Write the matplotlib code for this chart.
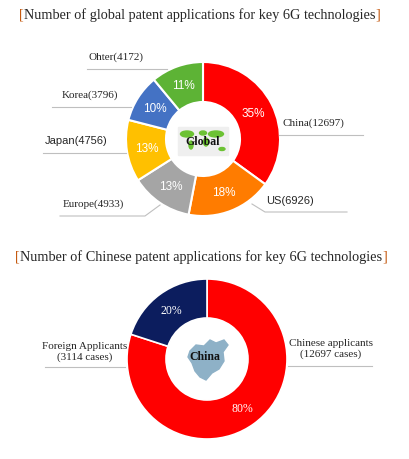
import matplotlib.pyplot as plt
from matplotlib.patches import Rectangle, Ellipse, Polygon

# données
regions = ["China", "US", "Europe", "Japan", "Korea", "Ohter"]
counts = [12697, 6926, 4933, 4756, 3796, 4172]
shares = [35, 18, 13, 13, 10, 11]
colors = ["#FF0000", "#FF7C00", "#A5A5A5", "#FFC000", "#4472C4", "#5DB335"]

cn_groups = ["Chinese applicants", "Foreign Applicants"]
cn_counts = [12697, 3114]
cn_shares = [80, 20]
cn_colors = ["#FF0000", "#0C1D5E"]

W, H = 410, 460
serif = "Liberation Serif"
sans = "Liberation Sans"


def Y(py):
    # coordonnées pixel (haut -> bas) vers coordonnées du graphique
    return H - py


fig = plt.figure(figsize=(W / 100, H / 100), dpi=100)
ax = fig.add_axes([0, 0, 1, 1])

# --- donut global ---
wedges, _, pcts = ax.pie(shares, colors=colors, startangle=90, counterclock=False,
                         center=(203, Y(140)), radius=77, autopct="%.0f%%",
                         pctdistance=0.74,
                         wedgeprops=dict(width=40, edgecolor="white", linewidth=1.5),
                         textprops=dict(color="white", fontsize=8.5, family=sans))

# --- donut Chine ---
wedges2, _, pcts2 = ax.pie(cn_shares, colors=cn_colors, startangle=90, counterclock=False,
                           center=(207, Y(360)), radius=80, autopct="%.0f%%",
                           pctdistance=0.76,
                           wedgeprops=dict(width=39, edgecolor="white", linewidth=1.2),
                           textprops=dict(color="white", fontsize=8.5, family=serif))

ax.set_xlim(0, W)
ax.set_ylim(0, H)
ax.set_aspect("equal")
ax.axis("off")

# étiquettes et lignes de rappel (global)
line_kw = dict(color="#BFBFBF", lw=0.8)
lab = dict(fontsize=8, color="#262626")
txt_pos = {
    "China": (283, 123, serif),
    "US": (266, 201, sans),
    "Europe": (63, 204, serif),
    "Japan": (45, 141, sans),
    "Korea": (62, 95, serif),
    "Ohter": (89, 57, serif),
}
leaders = {
    "China": [(279, 136), (363, 136)],
    "US": [(252, 205), (265, 213), (347, 213)],
    "Europe": [(160, 206), (145, 217), (60, 217)],
    "Japan": [(126, 154), (43, 154)],
    "Korea": [(131, 108), (52, 108)],
    "Ohter": [(167, 70), (87, 70)],
}
for name, n in zip(regions, counts):
    x, y, fam = txt_pos[name]
    ax.text(x, Y(y), f"{name}({n})", ha="left", va="center", family=fam, **lab)
    pts = leaders[name]
    ax.plot([p[0] for p in pts], [Y(p[1]) for p in pts], **line_kw)

# étiquettes (Chine)
ax.text(331, Y(349), f"{cn_groups[0]}\n({cn_counts[0]} cases)", ha="center", va="center",
        family=serif, fontsize=8, color="#262626", linespacing=1.25)
ax.plot([288, 372], [Y(367), Y(367)], **line_kw)
ax.text(85, Y(352), f"{cn_groups[1]}\n({cn_counts[1]} cases)", ha="center", va="center",
        family=serif, fontsize=8, color="#262626", linespacing=1.25)
ax.plot([45, 125], [Y(368), Y(368)], **line_kw)

# petite carte du monde au centre
ax.add_patch(Rectangle((178, Y(156)), 50, 28, color="#EFEFEF", zorder=3))
for cx, cy, w, h in [(187, 135, 13, 6), (191, 146, 4, 8), (203, 134, 7, 4),
                     (206, 143, 5, 8), (216, 135, 15, 6), (222, 150, 6, 3)]:
    ax.add_patch(Ellipse((cx, Y(cy)), w, h, color="#6CC233", zorder=4))
ax.text(203, Y(142), "Global", ha="center", va="center", family=serif,
        fontsize=8.5, fontweight="bold", color="#111111", zorder=5)

# silhouette de la Chine au centre
china_shape = [(190, 352), (196, 346), (204, 347), (210, 341), (216, 344), (224, 341),
               (228, 346), (223, 353), (224, 362), (219, 370), (212, 374), (206, 381),
               (200, 378), (195, 372), (192, 364), (188, 358)]
ax.add_patch(Polygon([(px, Y(py)) for px, py in china_shape], closed=True,
                     color="#8EB1C7", zorder=3))
ax.text(205, Y(357), "China", ha="center", va="center", family=serif,
        fontsize=8.5, fontweight="bold", color="#111111", zorder=5)

# titres avec crochets orange
fig.canvas.draw()
for title, ty, tx in [("Number of global patent applications for key 6G technologies", 15, 200),
                      ("Number of Chinese patent applications for key 6G technologies", 257, 201)]:
    t = ax.text(tx, Y(ty), title, ha="center", va="center", family=serif,
                fontsize=10.3, color="#262626")
    bb = t.get_window_extent(fig.canvas.get_renderer())
    inv = ax.transData.inverted()
    x0, _ = inv.transform((bb.x0, bb.y0))
    x1, _ = inv.transform((bb.x1, bb.y0))
    ax.text(x0, Y(ty), "[", ha="right", va="center", family=serif, fontsize=10.3, color="#C55A11")
    ax.text(x1, Y(ty), "]", ha="left", va="center", family=serif, fontsize=10.3, color="#C55A11")

fig.savefig("out.png", dpi=100)
